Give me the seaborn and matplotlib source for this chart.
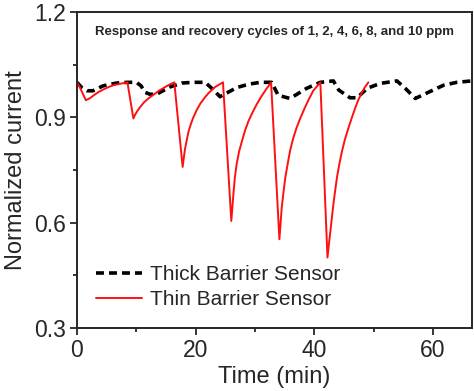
import matplotlib
matplotlib.use("Agg")
import matplotlib.pyplot as plt
from matplotlib.ticker import MultipleLocator, FormatStrFormatter
import seaborn as sns
import pandas as pd

# thick barrier sensor (black dashed)
thick_t = [0, 0.8, 1.7, 2.7, 4.4, 6.7, 8.5, 10.0, 10.8, 11.4, 12.3, 13.4, 15.7, 17.7,
           19.6, 21.6, 22.7, 24.1, 26.9, 29.0, 30.9, 32.8, 33.9, 35.9, 38.7, 41.0,
           43.2, 44.1, 46.0, 47.2, 48.9, 51.1, 53.9, 55.3, 57.0, 59.0, 61.8, 64.0, 66.5]
thick_v = [1.0, 0.985, 0.976, 0.976, 0.99, 0.998, 1.0, 1.0, 0.99, 0.972, 0.966, 0.966, 0.987, 0.998,
           1.0, 1.0, 0.983, 0.959, 0.985, 0.995, 1.0, 1.0, 0.963, 0.954, 0.983, 1.0,
           1.004, 0.978, 0.956, 0.956, 0.983, 0.997, 1.004, 0.983, 0.954, 0.97, 0.992, 1.0, 1.004]

# thin barrier sensor (red)
thin_t = [0, 0.5, 1.5, 2.2, 2.9, 3.7, 4.6, 5.4, 6.2, 7.3, 8.5,
          9.5, 9.8, 10.2, 10.7, 11.3, 12.1, 13.0, 13.8, 14.7, 15.5, 16.4,
          17.8, 18.0, 18.2, 18.5, 18.8, 19.2, 19.6, 20.2, 20.8, 21.5, 22.2, 23.3, 24.6,
          26.0, 26.2, 26.4, 26.6, 26.9, 27.3, 27.8, 28.3, 28.9, 29.6, 30.3, 31.0, 31.7, 32.7,
          34.1, 34.3, 34.5, 34.8, 35.1, 35.5, 35.9, 36.4, 37.0, 37.7, 38.4, 39.1, 39.8, 41.0,
          42.2, 42.45, 42.7, 42.95, 43.2, 43.5, 43.8, 44.2, 44.6, 45.1, 45.7, 46.3, 46.9, 47.4, 48.0, 48.5, 49.1]
thin_v = [1.0, 0.985, 0.949, 0.955, 0.964, 0.973, 0.981, 0.987, 0.992, 0.996, 1.0,
          0.897, 0.908, 0.919, 0.931, 0.943, 0.955, 0.966, 0.976, 0.985, 0.993, 1.0,
          0.759, 0.785, 0.81, 0.836, 0.86, 0.882, 0.90, 0.922, 0.94, 0.956, 0.97, 0.987, 1.0,
          0.605, 0.648, 0.691, 0.729, 0.767, 0.802, 0.833, 0.862, 0.890, 0.915, 0.938, 0.958, 0.976, 1.0,
          0.553, 0.598, 0.644, 0.688, 0.729, 0.768, 0.805, 0.839, 0.871, 0.901, 0.928, 0.953, 0.976, 1.0,
          0.501, 0.540, 0.577, 0.615, 0.653, 0.692, 0.729, 0.767, 0.800, 0.835, 0.868, 0.899, 0.928, 0.950,
          0.971, 0.986, 1.0]

sns.set_style("ticks")
plt.rcParams['font.family'] = ['Liberation Sans', 'DejaVu Sans']

fig = plt.figure(figsize=(4.74, 3.91), dpi=100)
ax = fig.add_axes([0.1624, 0.161, 0.834, 0.808])

thick = pd.DataFrame({'t': thick_t, 'v': thick_v})
thin = pd.DataFrame({'t': thin_t, 'v': thin_v})

sns.lineplot(data=thick, x='t', y='v', ax=ax, color='black', linewidth=2.6,
             linestyle=(0, (2.2, 1.4)), label='Thick Barrier Sensor')
sns.lineplot(data=thin, x='t', y='v', ax=ax, color='#ff1010', linewidth=1.4,
             label='Thin Barrier Sensor')

ax.set_xlim(0, 66.6)
ax.set_ylim(0.3, 1.2)
ax.xaxis.set_major_locator(MultipleLocator(20))
ax.xaxis.set_minor_locator(MultipleLocator(10))
ax.yaxis.set_major_locator(MultipleLocator(0.3))
ax.yaxis.set_minor_locator(MultipleLocator(0.15))
ax.yaxis.set_major_formatter(FormatStrFormatter('%.1f'))
ax.tick_params(which='major', length=5, width=1.3, labelsize=16.5, pad=3)
ax.tick_params(which='minor', length=3, width=1.3)
for s in ax.spines.values():
    s.set_linewidth(1.4)
    s.set_visible(True)

ax.set_xlabel('Time (min)', fontsize=17, labelpad=3)
ax.set_ylabel('Normalized current', fontsize=17, labelpad=5)

ax.text(0.5, 0.937, 'Response and recovery cycles of 1, 2, 4, 6, 8, and 10 ppm',
        transform=ax.transAxes, ha='center', va='center', fontsize=9.5, fontweight='bold')

ax.legend(loc='lower left', bbox_to_anchor=(0.0, 0.0), frameon=False, fontsize=15,
          handlelength=2.2, handletextpad=0.4, labelspacing=0.3)

plt.savefig('out.png', dpi=100)
plt.close()
